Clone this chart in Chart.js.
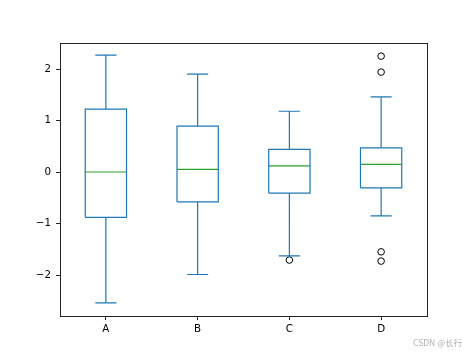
<!DOCTYPE html>
<html><head><meta charset="utf-8">
<script src="https://cdn.jsdelivr.net/npm/chart.js@4/dist/chart.umd.min.js"></script>
<style>
html,body{margin:0;padding:0;background:#fff;}
#wrap{position:relative;width:474px;height:355px;}
#wm{position:absolute;left:413px;top:336px;font:8.5px "Noto Sans CJK SC","DejaVu Sans",sans-serif;color:#b0b0b0;white-space:nowrap;}
</style></head>
<body><div id="wrap"><canvas id="c" width="474" height="355"></canvas><div id="wm">CSDN @长行</div></div>
<script>
const categories = ['A','B','C','D'];
const whiskerLow  = [-2.54, -1.99, -1.63, -0.85];
const q1          = [-0.88, -0.58, -0.41, -0.31];
const median      = [0.00, 0.05, 0.12, 0.15];
const q3          = [1.22, 0.89, 0.44, 0.47];
const whiskerHigh = [2.27, 1.90, 1.18, 1.46];
const outliers    = [[], [], [-1.71], [2.25, 1.94, -1.55, -1.73]];
const yTicks = [-2, -1, 0, 1, 2];

const BOX_HALF = 0.225, CAP_HALF = 0.115;
const blue = '#1f77b4', green = '#2ca02c';
const boxPts = [], whiskPts = [], medPts = [], outPts = [];
categories.forEach((c, i) => {
  const x = i + 1;
  boxPts.push({x:x-BOX_HALF,y:q1[i]},{x:x+BOX_HALF,y:q1[i]},{x:x+BOX_HALF,y:q3[i]},{x:x-BOX_HALF,y:q3[i]},{x:x-BOX_HALF,y:q1[i]},{x:x,y:null});
  whiskPts.push({x:x,y:q3[i]},{x:x,y:whiskerHigh[i]},{x:x,y:null},
                {x:x,y:q1[i]},{x:x,y:whiskerLow[i]},{x:x,y:null},
                {x:x-CAP_HALF,y:whiskerHigh[i]},{x:x+CAP_HALF,y:whiskerHigh[i]},{x:x,y:null},
                {x:x-CAP_HALF,y:whiskerLow[i]},{x:x+CAP_HALF,y:whiskerLow[i]},{x:x,y:null});
  medPts.push({x:x-BOX_HALF,y:median[i]},{x:x+BOX_HALF,y:median[i]},{x:x,y:null});
  outliers[i].forEach(v => outPts.push({x:x,y:v}));
});

const frame = {id:'frame', afterDraw(ch){const a=ch.chartArea,ctx=ch.ctx;ctx.save();ctx.strokeStyle='#222';ctx.lineWidth=1;ctx.strokeRect(Math.round(a.left)+0.5,Math.round(a.top)+0.5,Math.round(a.right-a.left),Math.round(a.bottom-a.top));ctx.restore();}};
const lineDs = (pts, col) => ({type:'scatter', data:pts, showLine:true, spanGaps:false, borderColor:col, borderWidth:1.2, pointRadius:0, pointHoverRadius:0, fill:false});
new Chart(document.getElementById('c'), {
  type:'scatter',
  data:{datasets:[
    lineDs(boxPts, blue), lineDs(whiskPts, blue), lineDs(medPts, green),
    {type:'scatter', data:outPts, pointRadius:3.3, pointStyle:'circle', borderColor:'#000', backgroundColor:'rgba(0,0,0,0)', borderWidth:1, showLine:false}
  ]},
  options:{
    responsive:false, animation:false, events:[],
    layout:{padding:{left:0,right:47,top:43,bottom:0}},
    plugins:{legend:{display:false}, tooltip:{enabled:false}},
    scales:{
      x:{type:'linear', min:0.5, max:4.5,
         afterBuildTicks(s){s.ticks=categories.map((c,i)=>({value:i+1}));},
         afterFit(s){s.height=39;},
         ticks:{callback:(v)=>categories[Math.round(v)-1]||'', color:'#000', font:{family:'DejaVu Sans',size:10.3}, padding:3, maxRotation:0},
         grid:{display:true, drawOnChartArea:false, drawTicks:true, tickLength:4, color:'#222'},
         border:{display:true, color:'#222', width:1}},
      y:{type:'linear', min:-2.796, max:2.505,
         afterBuildTicks(s){s.ticks=yTicks.map(v=>({value:v}));},
         afterFit(s){s.width=60;},
         ticks:{callback:(v)=>String(v).replace('-','\u2212'), color:'#000', font:{family:'DejaVu Sans',size:10.3}, padding:5},
         grid:{display:true, drawOnChartArea:false, drawTicks:true, tickLength:4, color:'#222'},
         border:{display:true, color:'#222', width:1}}
    }
  },
  plugins:[frame]
});
</script></body></html>
